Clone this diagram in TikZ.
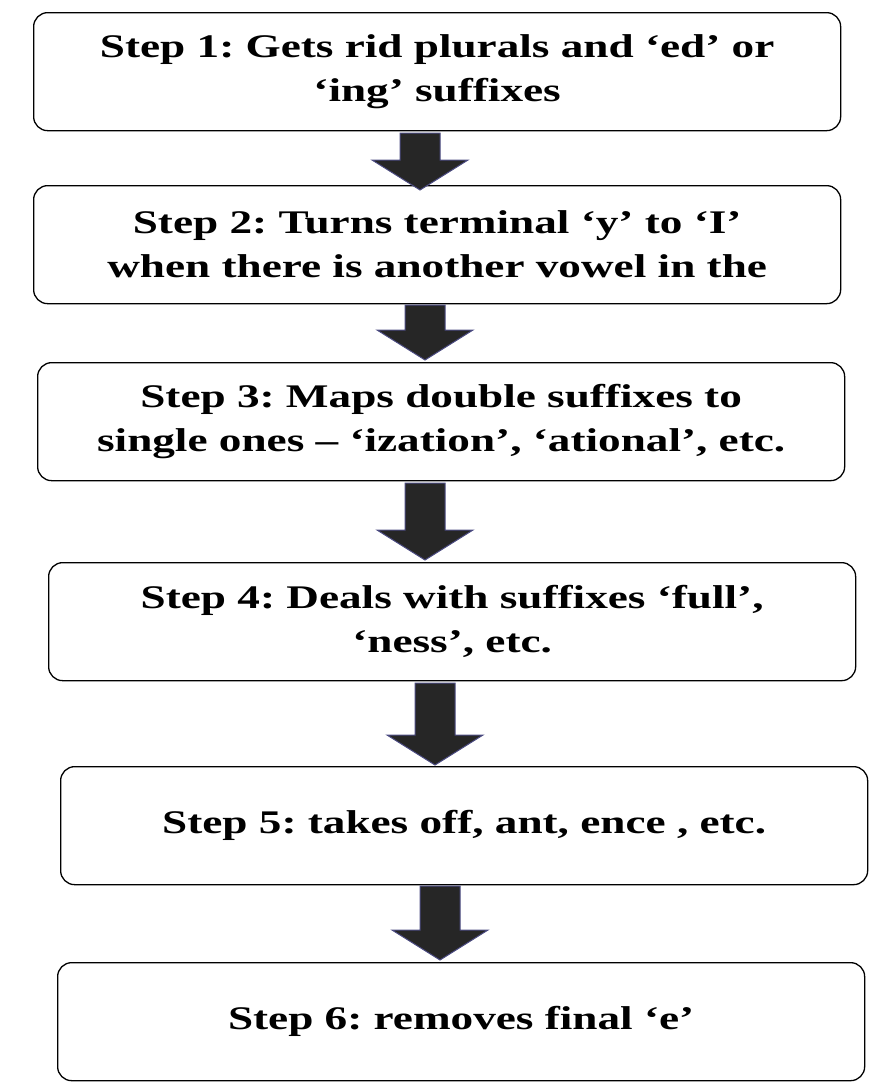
\documentclass[tikz,border=0pt]{standalone}
\usepackage{fontspec}
\setmainfont{Liberation Serif}
\frenchspacing
\newcommand{\wide}[1]{\scalebox{1.37}[1]{#1}}
\begin{document}
\begin{tikzpicture}[x=1pt,y=-1pt,
 stepbox/.style={draw=black,line width=1.3pt,rounded corners=14pt,minimum width=807pt,minimum height=118pt,font=\bfseries\fontsize{33}{44}\selectfont\frenchspacing,align=center,anchor=north west,inner sep=0pt},
 blk/.style={fill=black!85,draw=blue!30!black!70,line width=1pt}]
\useasboundingbox (0,0) rectangle (880,1087);
\node[stepbox] (s1) at (33,12) {\wide{Step 1: Gets rid plurals and ‘ed’ or}\\\wide{‘ing’ suffixes}};
\node[stepbox] (s2) at (33,185) {\wide{Step 2: Turns terminal ‘y’ to ‘I’}\\\wide{when there is another vowel in the}};
\node[stepbox] (s3) at (37,362) {\wide{Step 3: Maps double suffixes to}\\\wide{single ones – ‘ization’, ‘ational’, etc.}};
\node[stepbox] (s4) at (48,562) {\wide{Step 4: Deals with suffixes ‘full’,}\\\wide{‘ness’, etc.}};
\node[stepbox] (s5) at (60,766) {\wide{Step 5: takes off, ant, ence , etc.}};
\node[stepbox] (s6) at (57,962) {\wide{Step 6: removes final ‘e’}};
\foreach \x/\a/\b in {420/133/190, 425/305/360, 425/483/560, 435/683/765, 440/886/960}{
 \pgfmathsetmacro\m{\b-30}
 \draw[blk] (\x-20,\a) -- (\x+20,\a) -- (\x+20,\m) -- (\x+48,\m) -- (\x,\b) -- (\x-48,\m) -- (\x-20,\m) -- cycle;
}
\end{tikzpicture}
\end{document}
